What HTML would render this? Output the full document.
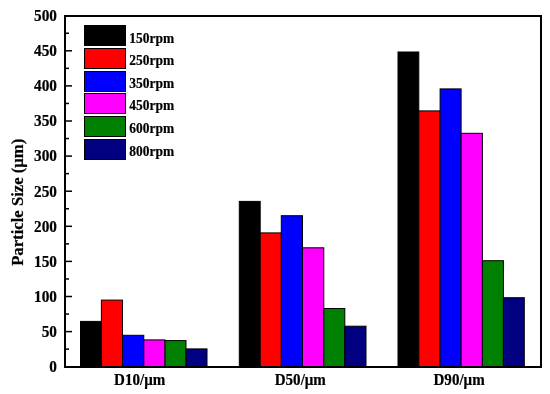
<!DOCTYPE html>
<html><head><meta charset="utf-8"><style>
html,body{margin:0;padding:0;background:#fff;}
svg{display:block;}
text{font-family:"Liberation Serif","Times New Roman",serif;font-weight:bold;fill:#000;stroke:#000;stroke-width:0.2px;}
.t{font-size:15.9px;}
.x{font-size:15.7px;}
.yt{font-size:16.7px;}
.l{font-size:13.8px;}
</style></head><body>
<svg width="550" height="394" viewBox="0 0 550 394">
<rect x="0" y="0" width="550" height="394" fill="#ffffff"/>
<rect x="80.50" y="321.40" width="20.90" height="45.10" fill="#000000" stroke="#000" stroke-width="1"/>
<rect x="101.40" y="300.10" width="21.10" height="66.40" fill="#ff0000" stroke="#000" stroke-width="1"/>
<rect x="122.50" y="335.30" width="21.30" height="31.20" fill="#0000ff" stroke="#000" stroke-width="1"/>
<rect x="143.80" y="339.90" width="21.20" height="26.60" fill="#ff00ff" stroke="#000" stroke-width="1"/>
<rect x="165.00" y="340.60" width="21.00" height="25.90" fill="#008000" stroke="#000" stroke-width="1"/>
<rect x="186.00" y="348.90" width="21.00" height="17.60" fill="#000080" stroke="#000" stroke-width="1"/>
<rect x="239.30" y="201.40" width="20.90" height="165.10" fill="#000000" stroke="#000" stroke-width="1"/>
<rect x="260.20" y="232.90" width="21.10" height="133.60" fill="#ff0000" stroke="#000" stroke-width="1"/>
<rect x="281.30" y="215.70" width="21.20" height="150.80" fill="#0000ff" stroke="#000" stroke-width="1"/>
<rect x="302.50" y="247.80" width="21.30" height="118.70" fill="#ff00ff" stroke="#000" stroke-width="1"/>
<rect x="323.80" y="308.50" width="21.00" height="58.00" fill="#008000" stroke="#000" stroke-width="1"/>
<rect x="344.80" y="326.20" width="21.20" height="40.30" fill="#000080" stroke="#000" stroke-width="1"/>
<rect x="398.00" y="52.00" width="20.80" height="314.50" fill="#000000" stroke="#000" stroke-width="1"/>
<rect x="418.80" y="110.90" width="21.30" height="255.60" fill="#ff0000" stroke="#000" stroke-width="1"/>
<rect x="440.10" y="88.90" width="21.00" height="277.60" fill="#0000ff" stroke="#000" stroke-width="1"/>
<rect x="461.10" y="133.30" width="21.30" height="233.20" fill="#ff00ff" stroke="#000" stroke-width="1"/>
<rect x="482.40" y="260.70" width="21.00" height="105.80" fill="#008000" stroke="#000" stroke-width="1"/>
<rect x="503.40" y="297.70" width="20.90" height="68.80" fill="#000080" stroke="#000" stroke-width="1"/>
<rect x="65" y="16" width="476" height="351" fill="none" stroke="#000" stroke-width="2"/>
<line x1="66" x2="69" y1="349.15" y2="349.15" stroke="#000" stroke-width="1.5"/>
<line x1="66" x2="72" y1="331.60" y2="331.60" stroke="#000" stroke-width="1.5"/>
<line x1="66" x2="69" y1="314.05" y2="314.05" stroke="#000" stroke-width="1.5"/>
<line x1="66" x2="72" y1="296.50" y2="296.50" stroke="#000" stroke-width="1.5"/>
<line x1="66" x2="69" y1="278.95" y2="278.95" stroke="#000" stroke-width="1.5"/>
<line x1="66" x2="72" y1="261.40" y2="261.40" stroke="#000" stroke-width="1.5"/>
<line x1="66" x2="69" y1="243.85" y2="243.85" stroke="#000" stroke-width="1.5"/>
<line x1="66" x2="72" y1="226.30" y2="226.30" stroke="#000" stroke-width="1.5"/>
<line x1="66" x2="69" y1="208.75" y2="208.75" stroke="#000" stroke-width="1.5"/>
<line x1="66" x2="72" y1="191.20" y2="191.20" stroke="#000" stroke-width="1.5"/>
<line x1="66" x2="69" y1="173.65" y2="173.65" stroke="#000" stroke-width="1.5"/>
<line x1="66" x2="72" y1="156.10" y2="156.10" stroke="#000" stroke-width="1.5"/>
<line x1="66" x2="69" y1="138.55" y2="138.55" stroke="#000" stroke-width="1.5"/>
<line x1="66" x2="72" y1="121.00" y2="121.00" stroke="#000" stroke-width="1.5"/>
<line x1="66" x2="69" y1="103.45" y2="103.45" stroke="#000" stroke-width="1.5"/>
<line x1="66" x2="72" y1="85.90" y2="85.90" stroke="#000" stroke-width="1.5"/>
<line x1="66" x2="69" y1="68.35" y2="68.35" stroke="#000" stroke-width="1.5"/>
<line x1="66" x2="72" y1="50.80" y2="50.80" stroke="#000" stroke-width="1.5"/>
<line x1="66" x2="69" y1="33.25" y2="33.25" stroke="#000" stroke-width="1.5"/>
<text transform="translate(57,372.48) scale(0.96,1)" text-anchor="end" class="t">0</text>
<text transform="translate(57,337.30) scale(0.96,1)" text-anchor="end" class="t">50</text>
<text transform="translate(57,302.12) scale(0.96,1)" text-anchor="end" class="t">100</text>
<text transform="translate(57,266.94) scale(0.96,1)" text-anchor="end" class="t">150</text>
<text transform="translate(57,231.77) scale(0.96,1)" text-anchor="end" class="t">200</text>
<text transform="translate(57,196.59) scale(0.96,1)" text-anchor="end" class="t">250</text>
<text transform="translate(57,161.41) scale(0.96,1)" text-anchor="end" class="t">300</text>
<text transform="translate(57,126.23) scale(0.96,1)" text-anchor="end" class="t">350</text>
<text transform="translate(57,91.06) scale(0.96,1)" text-anchor="end" class="t">400</text>
<text transform="translate(57,55.88) scale(0.96,1)" text-anchor="end" class="t">450</text>
<text transform="translate(57,20.70) scale(0.96,1)" text-anchor="end" class="t">500</text>
<rect x="84.5" y="25.50" width="41" height="20" fill="#000000" stroke="#000" stroke-width="1"/>
<text transform="translate(129.3,42.60) scale(0.975,1)" class="l">150rpm</text>
<rect x="84.5" y="48.50" width="41" height="20" fill="#ff0000" stroke="#000" stroke-width="1"/>
<text transform="translate(129.3,65.22) scale(0.975,1)" class="l">250rpm</text>
<rect x="84.5" y="71.50" width="41" height="20" fill="#0000ff" stroke="#000" stroke-width="1"/>
<text transform="translate(129.3,87.84) scale(0.975,1)" class="l">350rpm</text>
<rect x="84.5" y="93.50" width="41" height="20" fill="#ff00ff" stroke="#000" stroke-width="1"/>
<text transform="translate(129.3,110.46) scale(0.975,1)" class="l">450rpm</text>
<rect x="84.5" y="116.50" width="41" height="20" fill="#008000" stroke="#000" stroke-width="1"/>
<text transform="translate(129.3,133.08) scale(0.975,1)" class="l">600rpm</text>
<rect x="84.5" y="139.50" width="41" height="20" fill="#000080" stroke="#000" stroke-width="1"/>
<text transform="translate(129.3,155.70) scale(0.975,1)" class="l">800rpm</text>
<text transform="translate(139.70000000000002,385.3) scale(0.96,1)" text-anchor="middle" class="x">D10/μm</text>
<text transform="translate(300.29999999999995,385.3) scale(0.96,1)" text-anchor="middle" class="x">D50/μm</text>
<text transform="translate(459.09999999999997,385.3) scale(0.96,1)" text-anchor="middle" class="x">D90/μm</text>
<text transform="translate(23.2,202.3) rotate(-90) scale(1,0.96)" text-anchor="middle" class="yt">Particle Size (μm)</text>
</svg>
</body></html>
